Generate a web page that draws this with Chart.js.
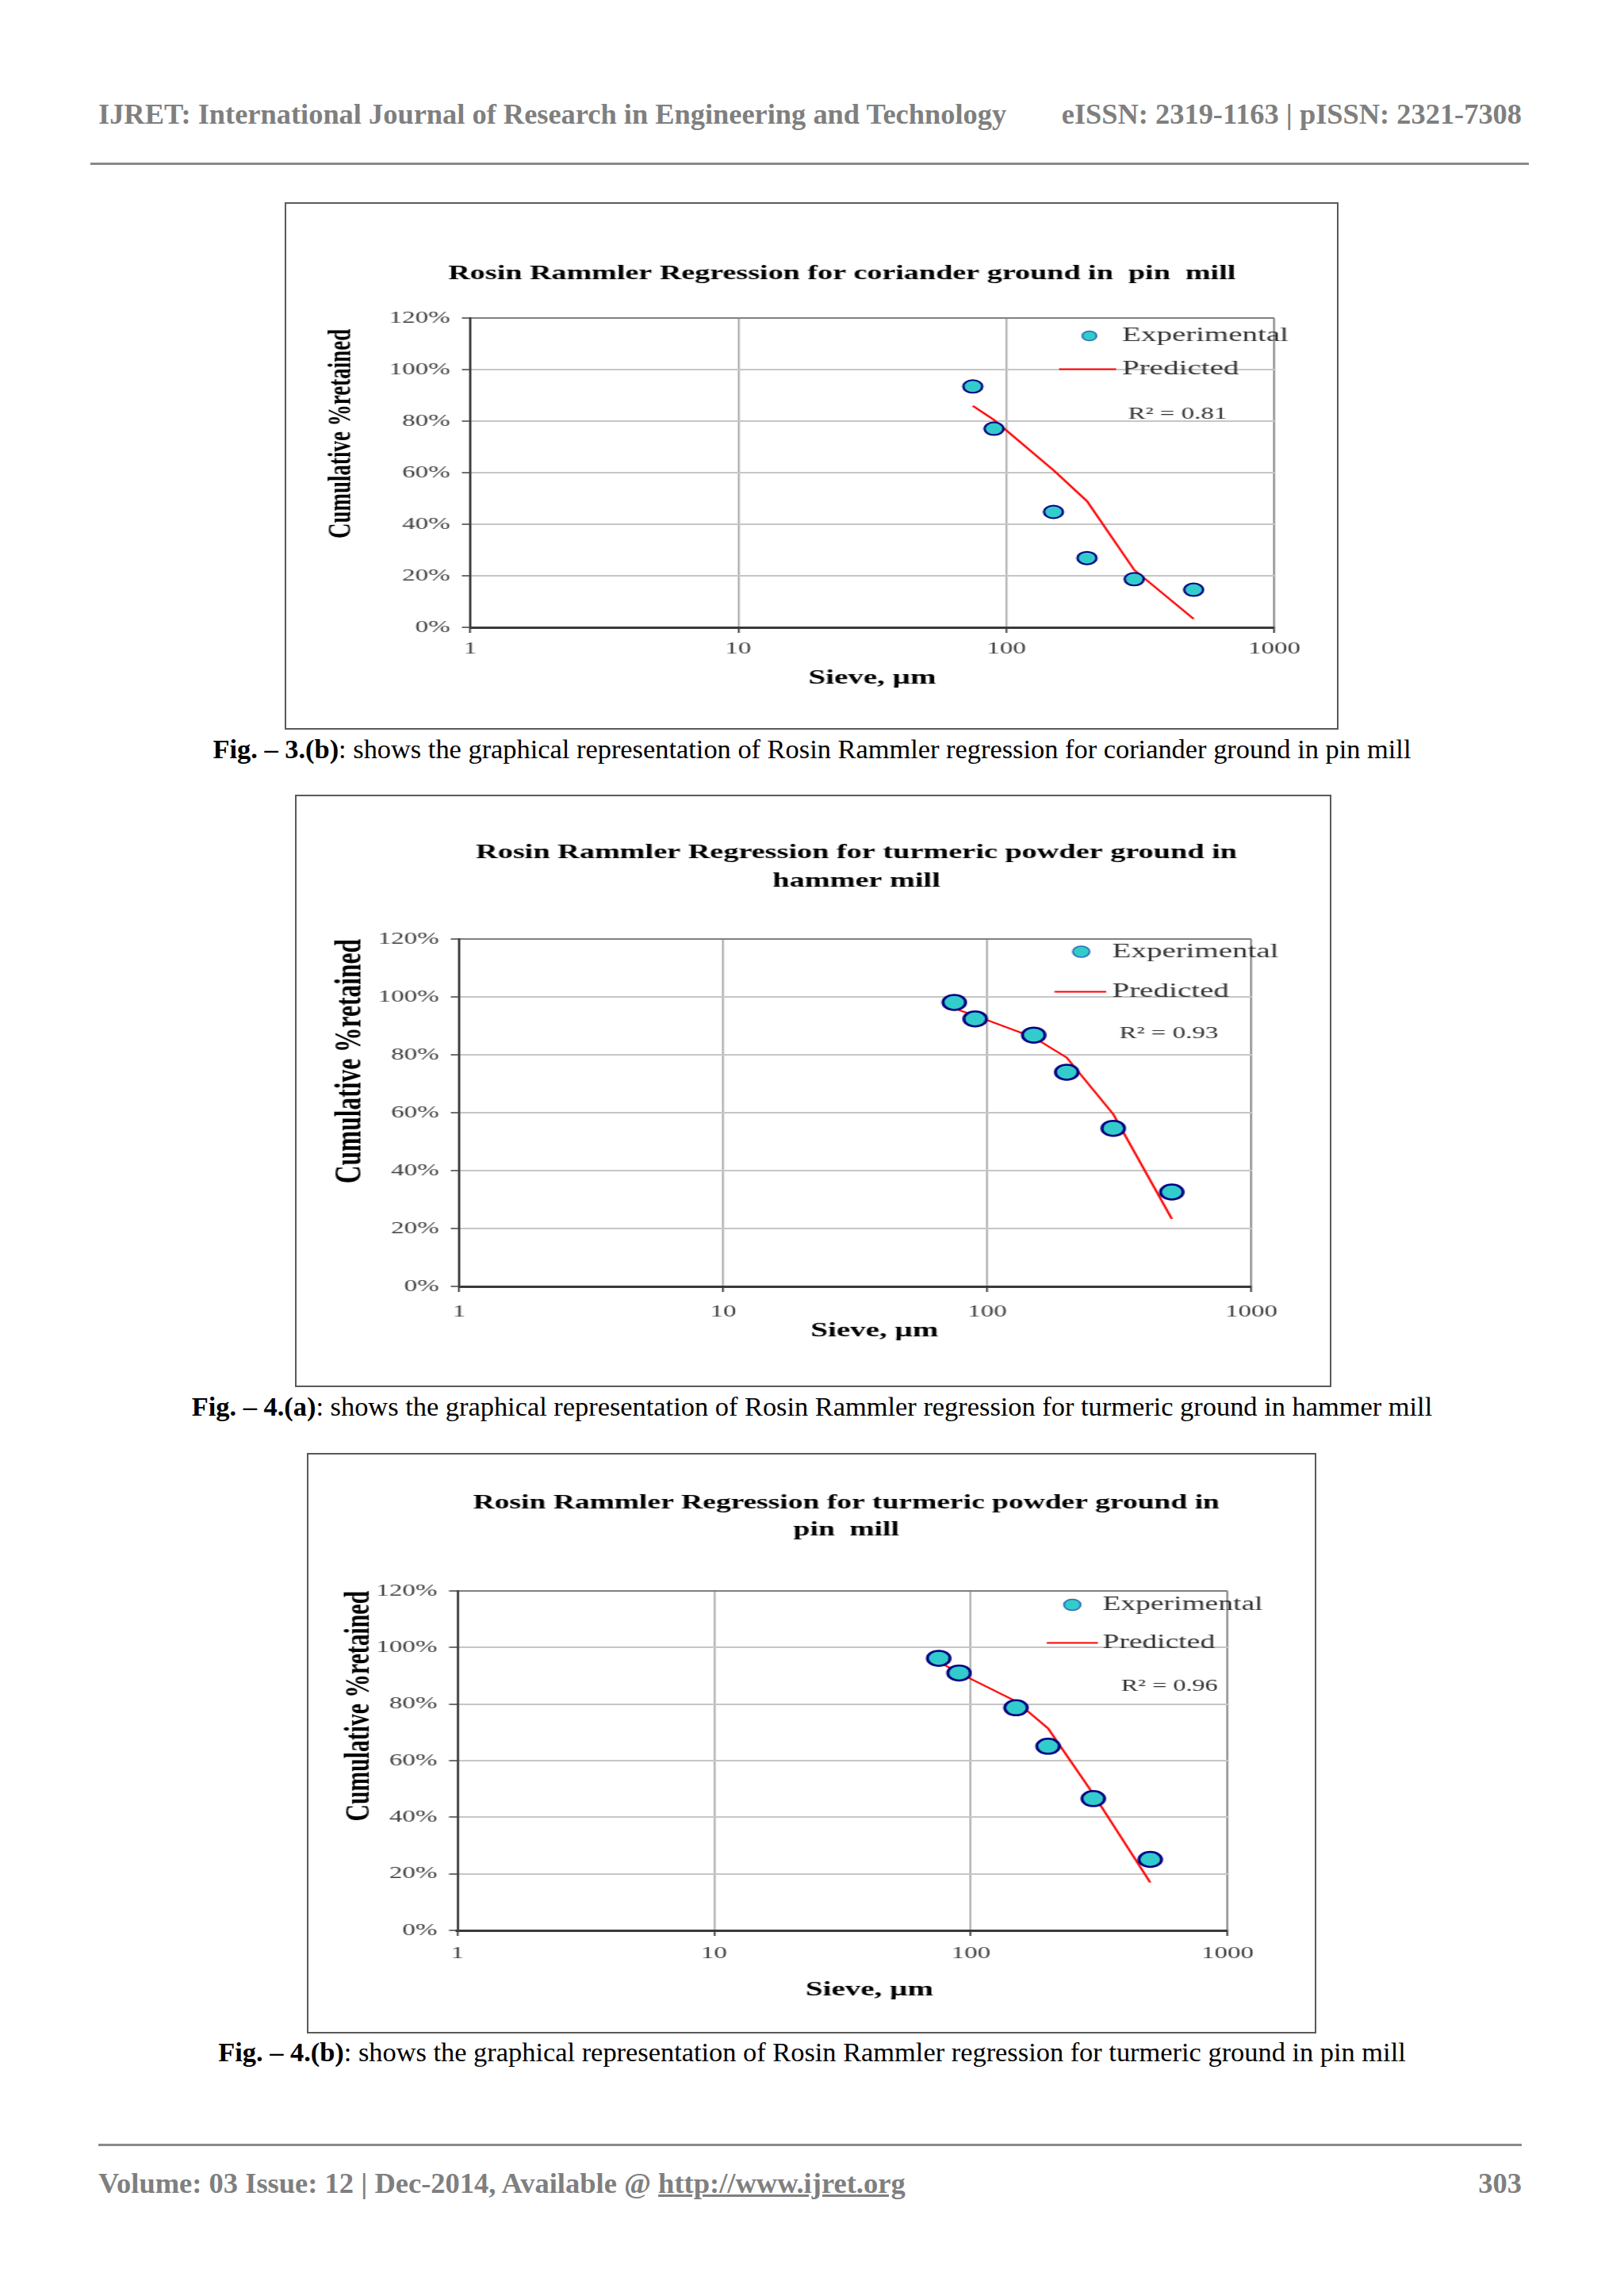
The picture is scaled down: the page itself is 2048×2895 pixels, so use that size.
<!DOCTYPE html>
<html>
<head>
<meta charset="utf-8">
<title>Rosin Rammler regression figures</title>
<script src="https://cdn.jsdelivr.net/npm/chart.js@4.4.0/dist/chart.umd.min.js"></script>
<style>
  html, body { margin: 0; padding: 0; background: #fff; }
  #page { position: relative; width: 2048px; height: 2895px; overflow: hidden; font-family: 'Liberation Serif', 'Times New Roman', serif; }
  .hdr { position: absolute; top: 124px; height: 40px; line-height: 40px; font-size: 36.4px; font-weight: bold; color: #7f7f7f; white-space: nowrap; }
  .rule { position: absolute; left: 114px; width: 1814px; height: 3px; background: #8a8a8a; }
  .box { position: absolute; box-sizing: border-box; border: 2px solid #5a5a5a; background: #fff; }
  .wrap { position: absolute; transform-origin: 0 0; transform: scaleX(1.5); }
  .wrap canvas { display: block; }
  .caption { position: absolute; left: 0; width: 2048px; text-align: center; font-size: 34.4px; line-height: 40px; color: #000; white-space: nowrap; }
  .footer { position: absolute; top: 2733px; height: 40px; line-height: 40px; font-size: 36.5px; font-weight: bold; color: #7f7f7f; white-space: nowrap; }
</style>
</head>
<body>
<div id="page">
  <div class="hdr" style="left:124px">IJRET: International Journal of Research in Engineering and Technology</div>
  <div class="hdr" style="right:129px">eISSN: 2319-1163 | pISSN: 2321-7308</div>
  <div class="rule" style="top:205px"></div>

  <div class="box" style="left:359px; top:255px; width:1329px; height:665px"></div>
  <div class="wrap" id="wrap1"><canvas id="chart1"></canvas></div>
  <div class="caption" style="top:924px"><b>Fig. – 3.(b)</b>: shows the graphical representation of Rosin Rammler regression for coriander ground in pin mill</div>

  <div class="box" style="left:372px; top:1002px; width:1307px; height:747px"></div>
  <div class="wrap" id="wrap2"><canvas id="chart2"></canvas></div>
  <div class="caption" style="top:1753px"><b>Fig. – 4.(a)</b>: shows the graphical representation of Rosin Rammler regression for turmeric ground in hammer mill</div>

  <div class="box" style="left:387px; top:1832px; width:1273px; height:732px"></div>
  <div class="wrap" id="wrap3"><canvas id="chart3"></canvas></div>
  <div class="caption" style="top:2567px"><b>Fig. – 4.(b)</b>: shows the graphical representation of Rosin Rammler regression for turmeric ground in pin mill</div>

  <div class="rule" style="top:2703px; left:124px; width:1795px"></div>
  <div class="footer" style="left:124px">Volume: 03 Issue: 12 | Dec-2014, Available @ <u>http://www.ijret.org</u></div>
  <div class="footer" style="right:129px">303</div>
</div>

<script>
// --- data ---
const sieveSizes = [75, 90, 150, 200, 300, 500];      // µm
const xTickValues = [1, 10, 100, 1000];
const yTickStep = 20;                                   // % steps, 0..120

const corianderPinExp = [93.5, 77.1, 44.8, 26.9, 18.7, 14.6];
const corianderPinPred = [86, 80.5, 61, 49, 22.3, 3.3];
const turmericHammerExp = [98.1, 92.4, 86.8, 74.0, 54.6, 32.6];
const turmericHammerPred = [96, 93.5, 86, 79, 59.5, 23.3];
const turmericPinExp = [96.2, 91.0, 78.7, 65.1, 46.6, 25.1];
const turmericPinPred = [95, 91, 81, 71.4, 48.2, 16.9];

const SERIF = "'Liberation Serif', 'Times New Roman', serif";
const STRETCH = 1.5; // the original chart images are stretched sideways (see .wrap)

// legend + R² drawn inside the plot, like the Excel originals
const insideLegend = {
    id: 'insideLegend',
    afterDraw(chart, args, o) {
        const ctx = chart.ctx;
        const exp = chart.data.datasets[0];
        const pred = chart.data.datasets[1];
        ctx.save();
        // marker
        ctx.beginPath();
        ctx.arc(o.markerX, o.markerY, o.markerR, 0, Math.PI * 2);
        ctx.fillStyle = exp.backgroundColor;
        ctx.fill();
        ctx.lineWidth = 1.5;
        ctx.strokeStyle = '#2a6db5';
        ctx.stroke();
        // line
        ctx.beginPath();
        ctx.moveTo(o.lineX1, o.lineY);
        ctx.lineTo(o.lineX2, o.lineY);
        ctx.lineWidth = 2;
        ctx.strokeStyle = pred.borderColor;
        ctx.stroke();
        // texts
        ctx.fillStyle = '#333';
        ctx.textBaseline = 'middle';
        ctx.textAlign = 'left';
        ctx.font = `${o.fontSize}px ${SERIF}`;
        ctx.fillText(exp.label, o.textX, o.markerY);
        ctx.fillText(pred.label, o.textX, o.lineY);
        ctx.font = `${o.r2Size}px ${SERIF}`;
        ctx.fillText(o.r2Text, o.r2X, o.r2Y);
        ctx.restore();
    }
};

function buildChart(n, g, expValues, predValues) {
    const canvas = document.getElementById('chart' + n);
    const wrap = document.getElementById('wrap' + n);
    canvas.width = g.w;
    canvas.height = g.h;
    wrap.style.left = g.left + 'px';
    wrap.style.top = g.top + 'px';
    wrap.style.width = g.w + 'px';
    wrap.style.height = g.h + 'px';

    return new Chart(canvas, {
        type: 'scatter',
        data: {
            datasets: [{
                label: 'Experimental',
                data: sieveSizes.map((x, i) => ({ x: x, y: expValues[i] })),
                backgroundColor: '#33CCCC',
                borderColor: '#000080',
                borderWidth: g.pointBorder,
                pointRadius: g.pointR,
                pointHoverRadius: g.pointR
            }, {
                label: 'Predicted',
                data: sieveSizes.map((x, i) => ({ x: x, y: predValues[i] })),
                showLine: true,
                borderColor: '#FF0000',
                backgroundColor: '#FF0000',
                borderWidth: 2,
                pointRadius: 0,
                tension: 0
            }]
        },
        options: {
            responsive: false,
            animation: false,
            devicePixelRatio: 1,
            layout: { padding: 0 },
            plugins: {
                legend: { display: false },
                tooltip: { enabled: false },
                title: {
                    display: true,
                    text: g.title,
                    color: '#000',
                    font: { family: SERIF, size: g.titleSize, weight: 'bold', lineHeight: g.titleLH },
                    padding: { top: g.titleTop, bottom: g.titleBottom }
                },
                insideLegend: g.legend
            },
            scales: {
                x: {
                    type: 'logarithmic',
                    min: 1,
                    max: 1000,
                    afterBuildTicks: s => { s.ticks = xTickValues.map(v => ({ value: v })); },
                    afterFit: s => { s.height = g.xAxisH; },
                    ticks: {
                        autoSkip: false,
                        maxRotation: 0,
                        padding: g.xTickPad,
                        color: '#404040',
                        font: { family: SERIF, size: 22 },
                        callback: v => String(v)
                    },
                    grid: {
                        color: c => (c.tick && c.tick.value === 1000) ? '#808080' : '#a8a8a8',
                        lineWidth: 1.5,
                        tickLength: 7,
                        tickColor: '#404040',
                        tickWidth: 1.5
                    },
                    border: { color: '#3a3a3a', width: 3 },
                    title: {
                        display: true,
                        text: g.xTitle,
                        color: '#000',
                        font: { family: SERIF, size: 26, weight: 'bold', lineHeight: 1.2 },
                        padding: { top: 0, bottom: g.xTitlePad }
                    }
                },
                y: {
                    min: 0,
                    max: 120,
                    afterFit: s => { s.width = g.yAxisW; },
                    ticks: {
                        stepSize: yTickStep,
                        padding: 10,
                        color: '#404040',
                        font: { family: SERIF, size: 22 },
                        callback: v => v + '%'
                    },
                    grid: {
                        color: c => (c.tick && c.tick.value === 120) ? '#808080' : '#c6c6c6',
                        lineWidth: 2,
                        tickLength: 7,
                        tickColor: '#404040',
                        tickWidth: 1.5
                    },
                    border: { color: '#404040', width: 2 },
                    title: {
                        display: true,
                        text: g.yTitle,
                        align: 'end',
                        color: '#000',
                        font: { family: SERIF, size: g.yTitleSize, weight: 'bold', lineHeight: 1.2 },
                        padding: { top: g.yTitlePad, bottom: 0 }
                    }
                },
                // empty spacer on the right so the chart title stays centred on the whole image
                spacer: {
                    type: 'linear',
                    position: 'right',
                    afterFit: s => { s.width = g.padRight; },
                    ticks: { display: false },
                    grid: { display: false, drawTicks: false },
                    border: { display: false }
                }
            }
        },
        plugins: [insideLegend]
    });
}

buildChart(1, {
    left: 359, top: 255, w: 937, h: 665,
    padRight: 105, yAxisW: 156, xAxisH: 129,
    title: 'Rosin Rammler Regression for coriander ground in  pin  mill',
    titleSize: 25.4, titleLH: 1.23, titleTop: 75, titleBottom: 40,
    xTitle: 'Sieve, µm', yTitle: 'Cumulative %retained  ',
    xTickPad: 7, xTitlePad: 49, yTitleSize: 27, yTitlePad: 31.5,
    pointR: 8, pointBorder: 2,
    legend: { markerX: 676.5, markerY: 168.5, markerR: 6, textX: 704, fontSize: 26,
              lineX1: 651, lineX2: 699, lineY: 210.6, r2X: 709, r2Y: 267, r2Size: 22, r2Text: 'R² = 0.81' }
}, corianderPinExp, corianderPinPred);

buildChart(2, {
    left: 372, top: 1002, w: 944, h: 747,
    padRight: 140, yAxisW: 138, xAxisH: 127,
    title: ['Rosin Rammler Regression for turmeric powder ground in', 'hammer mill'],
    titleSize: 25.5, titleLH: 1.431, titleTop: 55, titleBottom: 54,
    xTitle: '     Sieve, µm', yTitle: 'Cumulative %retained',
    xTickPad: 12, xTitlePad: 55, yTitleSize: 31.5, yTitlePad: 27.5,
    pointR: 9.5, pointBorder: 2.5,
    legend: { markerX: 661, markerY: 198, markerR: 7, textX: 687, fontSize: 26,
              lineX1: 638.5, lineX2: 682, lineY: 248.6, r2X: 693, r2Y: 301, r2Size: 22, r2Text: 'R² = 0.93' }
}, turmericHammerExp, turmericHammerPred);

buildChart(3, {
    left: 387, top: 1832, w: 907, h: 732,
    padRight: 133, yAxisW: 126.5, xAxisH: 130,
    title: ['Rosin Rammler Regression for turmeric powder ground in', 'pin  mill'],
    titleSize: 25, titleLH: 1.36, titleTop: 47, titleBottom: 59,
    xTitle: '       Sieve, µm', yTitle: 'Cumulative %retained',
    xTickPad: 9, xTitlePad: 39, yTitleSize: 29.7, yTitlePad: 27,
    pointR: 9.5, pointBorder: 2.5,
    legend: { markerX: 643.5, markerY: 191.5, markerR: 7, textX: 669, fontSize: 25,
              lineX1: 622, lineX2: 665, lineY: 239.6, r2X: 684.5, r2Y: 294, r2Size: 21.5, r2Text: 'R² = 0.96' }
}, turmericPinExp, turmericPinPred);
</script>
</body>
</html>
